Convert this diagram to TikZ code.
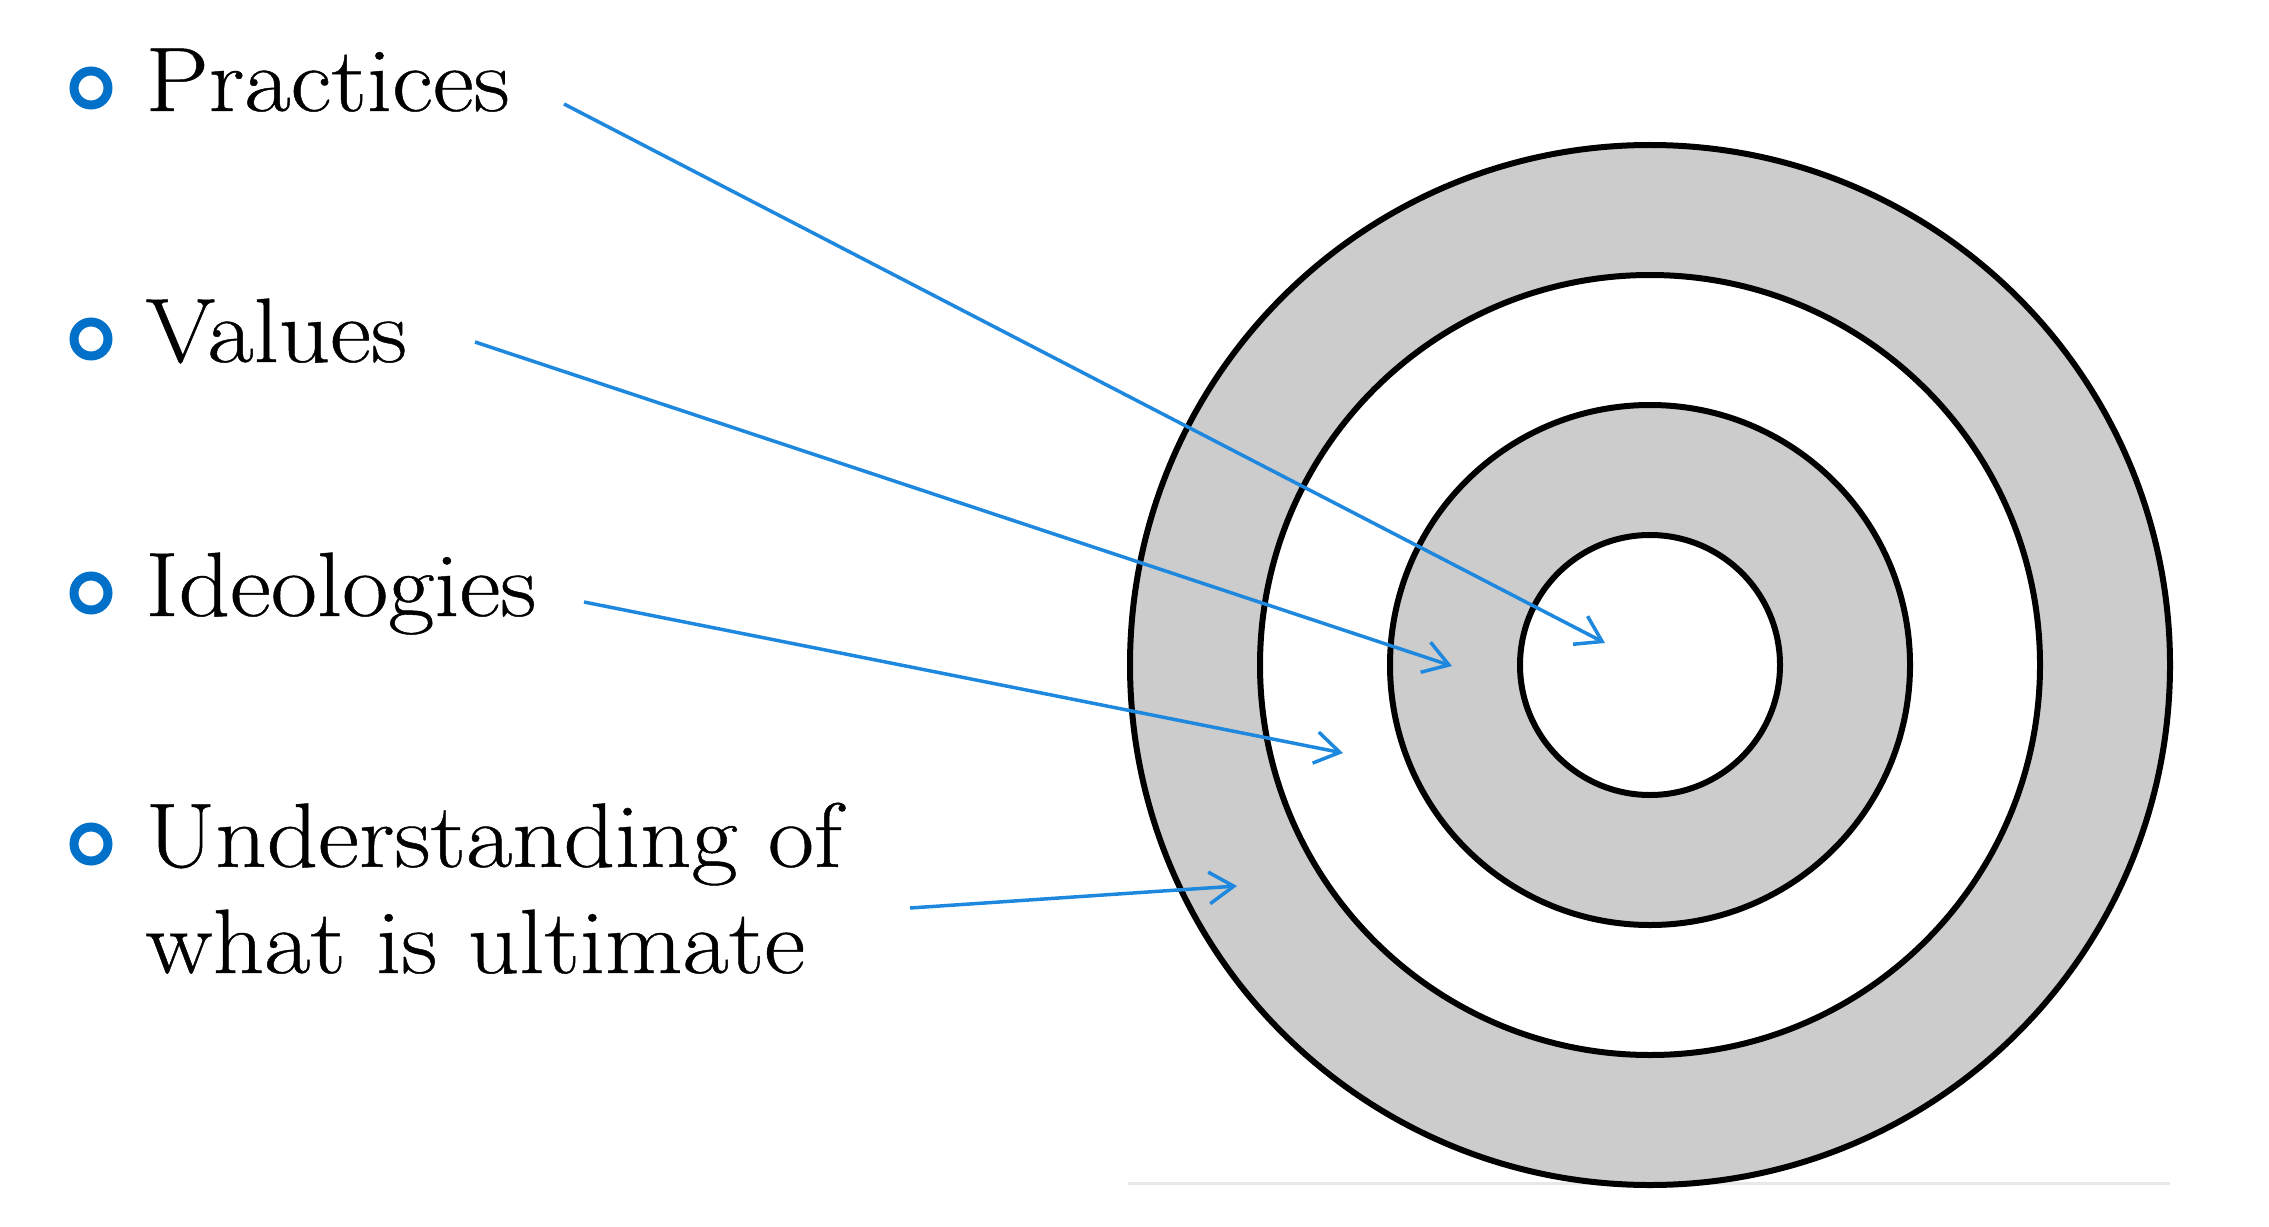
\documentclass[tikz,border=0pt]{standalone}
\usepackage{fontspec}
\setmainfont{Latin Modern Roman}[FakeStretch=1.1,FakeBold=0.5]
\usetikzlibrary{arrows.meta}
\definecolor{bulletblue}{RGB}{0,112,200}
\definecolor{arrowblue}{RGB}{30,136,222}
\definecolor{ringgray}{RGB}{204,204,204}
\definecolor{rulegray}{RGB}{232,232,232}
\tikzset{
  lbl/.style={anchor=base west,inner sep=0pt,align=left,font=\fontsize{26}{30.2}\selectfont},
  bullet/.style={circle,draw=bulletblue,line width=0.09cm,minimum size=0.34cm,inner sep=0pt},
  ring/.style={draw=black,line width=0.06cm},
  pointer/.style={draw=arrowblue,line width=0.035cm,-{Straight Barb[length=7pt,width=9pt]}}
}
\begin{document}
\begin{tikzpicture} %[x=1cm,y=1cm]
       \useasboundingbox (0,0) rectangle (22.69,-12.27);
       \node[bullet] (b1) at (0.91,-0.88) {};
       \node[bullet] (b2) at (0.91,-3.39) {};
       \node[bullet] (b3) at (0.91,-5.93) {};
       \node[bullet] (b4) at (0.91,-8.44) {};
       \node[lbl] (prac) at (1.45,-1.11) {Practices};
       \node[lbl] (val) at (1.45,-3.62) {Values};
       \node[lbl] (ideo) at (1.45,-6.16) {Ideologies};
       % base anchor sits on the last line here
       \node[lbl] (und) at (1.45,-9.73) {Understanding of\\what is ultimate};
       \draw [rulegray,line width=0.03cm] (11.28,-11.83) -- (21.70,-11.83);
       \coordinate (c) at (16.50,-6.65);
       \draw [ring,fill=ringgray] (c) circle (5.2);
       \draw [ring,fill=white] (c) circle (3.9);
       \draw [ring,fill=ringgray] (c) circle (2.6);
       \draw [ring,fill=white] (c) circle (1.3);
       \coordinate (p0) at (5.64,-1.04);
       \coordinate (p1) at (16.05,-6.43);
       \coordinate (v0) at (4.75,-3.42);
       \coordinate (v1) at (14.52,-6.66);
       \coordinate (i0) at (5.84,-6.02);
       \coordinate (i1) at (13.43,-7.53);
       \coordinate (u0) at (9.10,-9.08);
       \coordinate (u1) at (12.37,-8.86);
       \draw [pointer] (p0) -- (p1);
       \draw [pointer] (v0) -- (v1);
       \draw [pointer] (i0) -- (i1);
       \draw [pointer] (u0) -- (u1);
     \end{tikzpicture}
\end{document}
